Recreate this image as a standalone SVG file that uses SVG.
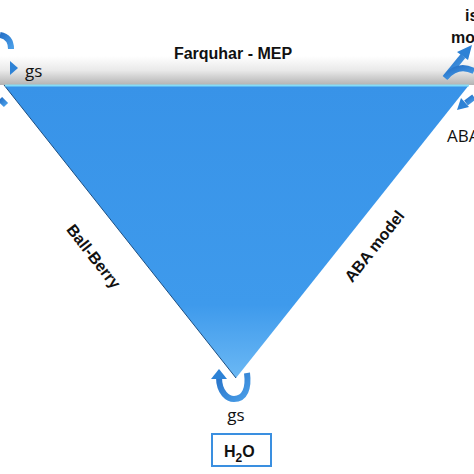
<svg xmlns="http://www.w3.org/2000/svg" width="474" height="474" viewBox="0 0 474 474">
<style>
.lbl{font-family:"Liberation Sans",Arial,sans-serif;font-weight:bold;font-size:16px;fill:#111}
.reg{font-family:"Open Sans","Liberation Sans",Arial,sans-serif;font-size:17px;fill:#111}
.arw{fill:none;stroke:url(#ag);stroke-width:6;stroke-linecap:butt}
.head{fill:#2d82d6}
</style>
<defs>
<linearGradient id="band" x1="0" y1="0" x2="0" y2="1">
<stop offset="0" stop-color="#ffffff"/>
<stop offset="0.5" stop-color="#e9e9e9"/>
<stop offset="1" stop-color="#b3b3b3"/>
</linearGradient>
<linearGradient id="tri" x1="0" y1="0" x2="0" y2="1">
<stop offset="0" stop-color="#3893e8"/>
<stop offset="0.75" stop-color="#3e9aec"/>
<stop offset="1" stop-color="#6bb8f4"/>
</linearGradient>
<linearGradient id="ag" x1="0" y1="0" x2="1" y2="1">
<stop offset="0" stop-color="#2571c7"/>
<stop offset="1" stop-color="#4a9ee8"/>
</linearGradient>
</defs>
<rect x="0" y="56" width="474" height="29" fill="url(#band)"/>
<g id="triangle">
<polygon points="4,85 469,85 236,378" fill="url(#tri)"/>
<line x1="4" y1="85" x2="236" y2="378" stroke="#1d4f82" stroke-width="1"/>
<line x1="5" y1="85.5" x2="469" y2="85.5" stroke="#86dcf6" stroke-width="2"/>
</g>
<g id="top-label"><text class="lbl" x="233" y="59" text-anchor="middle" font-size="17">Farquhar - MEP</text></g>
<g id="left-label"><text class="lbl" transform="translate(94,256) rotate(51.8)" text-anchor="middle" dy="6">Ball-Berry</text></g>
<g id="right-label"><text class="lbl" transform="translate(374,246) rotate(-51.7)" text-anchor="middle" dy="6">ABA model</text></g>
<g id="node-left">
<text class="reg" x="25" y="77">gs</text>
</g>
<g id="node-right">
<text class="lbl" x="465" y="21">is</text>
<text class="lbl" x="451" y="43">mo</text>
<text class="reg" x="447" y="142">ABA</text>
</g>
<g id="node-bottom">
<text class="reg" x="236" y="421" text-anchor="middle">gs</text>
<rect x="212" y="434" width="59" height="32" fill="#fff" stroke="#3a8fe0" stroke-width="2"/>
<text class="lbl" x="224" y="457" font-size="18">H<tspan font-size="12" dy="5">2</tspan><tspan dy="-5">O</tspan></text>
</g>
<g id="connectors">
<path class="arw" d="M0,35 Q11,37 11,49"/>
<path class="arw" d="M0,68 L11,68"/>
<polygon class="head" points="10,61 18,68 10,75"/>
<path class="arw" d="M0,99 L6,105"/>
<path class="arw" d="M445,78 L463,56"/>
<polygon class="head" points="457,52 472,45 468,60"/>
<path class="arw" d="M446,77 Q458,63 474,71"/>
<path class="arw" d="M474,97 L466,103"/>
<polygon class="head" points="461,98 457,110 469,107"/>
<path class="arw" d="M219,377 C219,393 228,399 234,399 C245,399 249,388 247,373"/>
<polygon class="head" points="211,379 219,369 227,379"/>
</g>
</svg>
